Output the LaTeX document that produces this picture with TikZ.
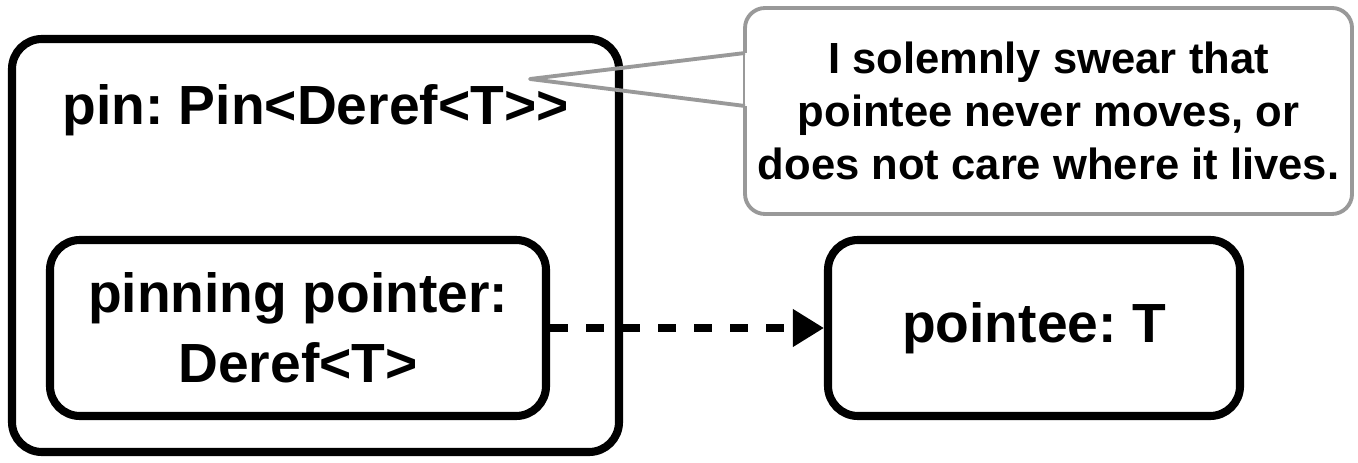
\documentclass[tikz,border=0pt]{standalone}
\usepackage{fontspec}
\setmainfont{Liberation Sans}
\frenchspacing
\usetikzlibrary{positioning,arrows.meta}

\begin{document}
\begin{tikzpicture}[
box/.style={draw,rectangle,rounded corners=0.3cm,line width=2.3pt,inner sep=0pt},
title/.style={font=\bfseries\fontsize{15.7}{19.8}\selectfont,align=center,inner sep=0pt},
notebox/.style={draw=black!40,fill=white,rectangle,rounded corners=0.2cm,line width=1.1pt,
    align=center,font=\bfseries\fontsize{12.4}{15}\selectfont},
tail/.style={draw=black!40,line width=1.1pt,line join=round},
pointsto/.style={-{Triangle[length=0.31cm,width=0.36cm]},dash pattern=on 0.18cm off 0.18cm,line width=2pt}]

\useasboundingbox (0,0) rectangle (13.58,4.62);

% the Pin and what it holds
\node (pin) [box,minimum width=6.07cm,minimum height=4.13cm] at (3.155,2.165) {};
\node (pintitle) [title,below=0.49cm of pin.north] {pin: Pin<Deref<T>{}>};
\node (pinning) [box,title,minimum width=4.96cm,minimum height=1.76cm] at (2.98,1.34)
    {pinning pointer:\\ Deref<T>};
\node (pointee) [box,title,minimum width=4.12cm,minimum height=1.76cm] at (10.34,1.34) {pointee: T};
\draw [pointsto] (pinning) -- (pointee);

% the promise
\node (note) [notebox,minimum width=6.07cm,minimum height=2.06cm] at (10.485,3.51)
    {I solemnly swear that\\ pointee never moves, or\\ does not care where it lives.};
\coordinate (tip) at (5.30,3.83);
\coordinate (tailtop) at (7.45,4.09);
\coordinate (tailbot) at (7.45,3.56);
\fill [white] (tailbot) -- ++(0.05,0) |- (tailtop) -- cycle;
\draw [tail] (tailtop) -- (tip) -- (tailbot);

\end{tikzpicture}
\end{document}
